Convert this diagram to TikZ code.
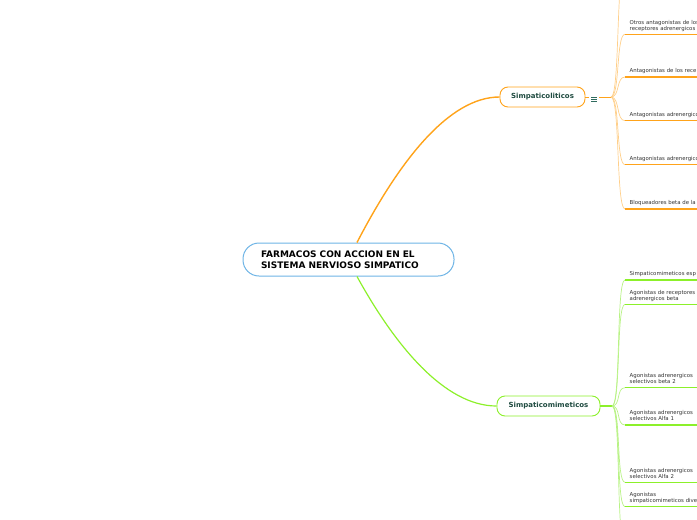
\documentclass[tikz,border=0pt]{standalone}
\usepackage{fontspec}
\setmainfont{DejaVu Sans}
\usepackage{xcolor}
\usepackage{tikz}
\usetikzlibrary{positioning}

\definecolor{rootblue}{HTML}{6EB4E6}
\definecolor{limborange}{HTML}{FFA31A}
\definecolor{limbgreen}{HTML}{8CF02A}
\definecolor{twigorange}{HTML}{FFCF8A}
\definecolor{twiggreen}{HTML}{B8F285}
\definecolor{labelteal}{HTML}{1F4B40}
\definecolor{iconteal}{HTML}{2F6B5E}
\definecolor{leafgray}{HTML}{333333}

\begin{document}
\begin{tikzpicture}[
        x=1pt, y=-1pt,
        % Node styles
        root/.style={rectangle, draw=rootblue, line width=1pt, fill=white, rounded corners=16pt,
                     minimum width=211pt, minimum height=33pt, text width=175pt, align=left,
                     inner sep=0pt, font=\fontsize{9}{10.8}\selectfont\bfseries},
        branch/.style={rectangle, fill=white, line width=0.9pt, rounded corners=8pt,
                       minimum height=20pt, inner sep=0pt, text=labelteal,
                       font=\fontsize{7}{8}\selectfont\bfseries},
        menuicon/.style={rectangle, minimum width=10pt, minimum height=10pt, inner sep=0pt,
                         path picture={\foreach \d in {0.9,2.8,4.7}
                           \draw[iconteal, line width=0.9pt]
                             ([xshift=2pt, yshift=-\d pt]path picture bounding box.west) --
                             ([xshift=-2pt, yshift=-\d pt]path picture bounding box.east);}},
        leaf/.style={anchor=south west, text width=100pt, align=left, inner xsep=4.5pt,
                     inner ysep=2pt, text=leafgray, font=\fontsize{5.4}{6.2}\selectfont,
                     execute at end node=\strut},
        limbo/.style={draw=limborange, line width=1.4pt},
        limbg/.style={draw=limbgreen, line width=1.2pt},
        twigo/.style={draw=twigorange, line width=0.7pt},
        twigg/.style={draw=twiggreen, line width=0.7pt},
        ulineo/.style={draw=limborange, line width=1.1pt},
        ulineg/.style={draw=limbgreen, line width=1.1pt}
    ]
        \useasboundingbox (0,0) rectangle (697,520);

        % Central topic and the two branches
        \node[root] (farmacos) at (348.5,259.5) {FARMACOS CON ACCION EN EL\\SISTEMA NERVIOSO SIMPATICO};
        \node[branch, draw=limborange, minimum width=85pt] (simpaticoliticos) at (542.5,97) {Simpaticoliticos};
        \node[branch, draw=limbgreen, minimum width=103pt] (simpaticomimeticos) at (548.5,406) {Simpaticomimeticos};
        \node[menuicon] (menu) at (594,97) {};

        \coordinate (hubo) at (611,97);
        \coordinate (hubg) at (612,406);

        % Leaves of Simpaticoliticos
        \coordinate (offo) at (625,-35);
        \node[leaf] (otros) at (625,34.3) {Otros antagonistas de los\\receptores adrenergicos};
        \node[leaf] (antrec) at (625,77) {Antagonistas de los rece};
        \node[leaf] (antadra) at (625,120.7) {Antagonistas adrenergico};
        \node[leaf] (antadrb) at (625,164.7) {Antagonistas adrenergico};
        \node[leaf] (bloqueadores) at (625,209) {Bloqueadores beta de la};

        % Leaves of Simpaticomimeticos
        \node[leaf] (simpesp) at (625,280) {Simpaticomimeticos esp};
        \node[leaf] (agobeta) at (625,304.3) {Agonistas de receptores\\adrenergicos beta};
        \node[leaf] (agobetados) at (625,387.7) {Agonistas adrenergicos\\selectivos beta 2};
        \node[leaf] (agoalfauno) at (625,425) {Agonistas adrenergicos\\selectivos Alfa 1};
        \node[leaf] (agoalfados) at (625,482.3) {Agonistas adrenergicos\\selectivos Alfa 2};
        \node[leaf] (agodiversos) at (625,506.7) {Agonistas\\simpaticomimeticos dive};
        \coordinate (offg) at (625,545);

        % Main branches
        \draw[limbo] ([xshift=8.5pt]farmacos.north) .. controls +(43,-83) and +(-50,0) .. (simpaticoliticos.west);
        \draw[limbg] ([xshift=8.5pt]farmacos.south) .. controls +(38,69) and +(-52,0) .. (simpaticomimeticos.west);
        \draw[draw=limborange, line width=1pt] (simpaticoliticos.east) -- (menu.west);
        \draw[draw=limborange, line width=1pt] (menu.east) -- (hubo);
        \draw[draw=limbgreen, line width=1.5pt] (simpaticomimeticos.east) -- (hubg);

        % Twigs to the orange leaves
        \draw[twigo] (hubo) .. controls +(9,0) and +(-9,0) .. (offo);
        \draw[twigo] (hubo) .. controls +(9,0) and +(-9,0) .. (otros.south west);
        \draw[twigo] (hubo) .. controls +(9,0) and +(-9,0) .. (antrec.south west);
        \draw[twigo] (hubo) .. controls +(9,0) and +(-9,0) .. (antadra.south west);
        \draw[twigo] (hubo) .. controls +(9,0) and +(-9,0) .. (antadrb.south west);
        \draw[twigo] (hubo) .. controls +(9,0) and +(-9,0) .. (bloqueadores.south west);
        \draw[ulineo] (otros.south west) -- (otros.south east);
        \draw[ulineo] (antrec.south west) -- (antrec.south east);
        \draw[ulineo] (antadra.south west) -- (antadra.south east);
        \draw[ulineo] (antadrb.south west) -- (antadrb.south east);
        \draw[ulineo] (bloqueadores.south west) -- (bloqueadores.south east);

        % Twigs to the green leaves
        \draw[twigg] (hubg) .. controls +(9,0) and +(-9,0) .. (simpesp.south west);
        \draw[twigg] (hubg) .. controls +(9,0) and +(-9,0) .. (agobeta.south west);
        \draw[twigg] (hubg) .. controls +(9,0) and +(-9,0) .. (agobetados.south west);
        \draw[twigg] (hubg) .. controls +(9,0) and +(-9,0) .. (agoalfauno.south west);
        \draw[twigg] (hubg) .. controls +(9,0) and +(-9,0) .. (agoalfados.south west);
        \draw[twigg] (hubg) .. controls +(9,0) and +(-9,0) .. (agodiversos.south west);
        \draw[twigg] (hubg) .. controls +(9,0) and +(-9,0) .. (offg);
        \draw[ulineg] (simpesp.south west) -- (simpesp.south east);
        \draw[ulineg] (agobeta.south west) -- (agobeta.south east);
        \draw[ulineg] (agobetados.south west) -- (agobetados.south east);
        \draw[ulineg] (agoalfauno.south west) -- (agoalfauno.south east);
        \draw[ulineg] (agoalfados.south west) -- (agoalfados.south east);
        \draw[ulineg] (agodiversos.south west) -- (agodiversos.south east);
    \end{tikzpicture}
\end{document}
